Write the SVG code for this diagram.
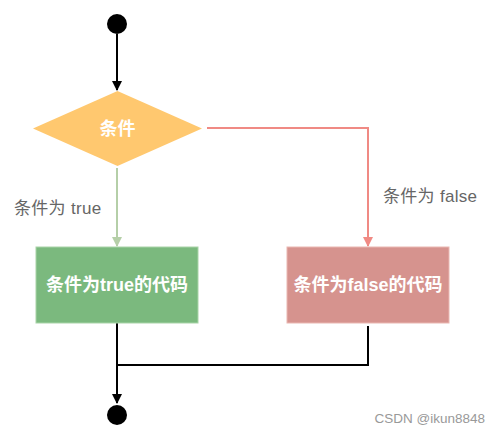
<svg xmlns="http://www.w3.org/2000/svg" width="500" height="436" viewBox="0 0 500 436">
<style>
.lbl{font-family:"Liberation Sans","Noto Sans CJK SC",sans-serif;font-size:17px;fill:#666666;letter-spacing:0.3px}
.ntx{font-family:"Liberation Sans","Noto Sans CJK SC",sans-serif;font-size:18px;font-weight:bold;fill:#ffffff;text-anchor:middle;dominant-baseline:central}
</style>
<defs>
<marker id="ab" markerWidth="10" markerHeight="10" refX="9" refY="5" orient="auto" markerUnits="userSpaceOnUse"><path d="M0,0 L10,5 L0,10 Z" fill="#000"/></marker>
<marker id="ag" markerWidth="10" markerHeight="10" refX="9" refY="5" orient="auto" markerUnits="userSpaceOnUse"><path d="M0,0 L10,5 L0,10 Z" fill="#B5CFA8"/></marker>
<marker id="ar" markerWidth="10" markerHeight="10" refX="9" refY="5" orient="auto" markerUnits="userSpaceOnUse"><path d="M0,0 L10,5 L0,10 Z" fill="#F08A84"/></marker>
</defs>
<rect width="500" height="436" fill="#ffffff"/>
<g id="connectors" fill="none" stroke-width="2">
<path d="M117,34 V90" stroke="#000" marker-end="url(#ab)"/>
<path d="M117,168 V246" stroke="#B5CFA8" marker-end="url(#ag)"/>
<path d="M207,128 H368 V246" stroke="#F08A84" marker-end="url(#ar)"/>
<path d="M117,323 V403" stroke="#000" marker-end="url(#ab)"/>
<path d="M368,326 V365 H117" stroke="#000"/>
<text class="lbl" x="14" y="214" stroke="none">条件为 true</text>
<text class="lbl" x="383" y="202" stroke="none">条件为 false</text>
</g>
<g id="start"><circle cx="117" cy="24" r="10" fill="#000"/></g>
<g id="cond"><polygon points="117.5,91 202,128.5 117.5,166 33,128.5" fill="#FFC86F"/><text class="ntx" x="117.5" y="129" font-size="19">条件</text></g>
<g id="trueBox"><rect x="36" y="247" width="162" height="76" fill="#7BB97E" stroke="#A9D4A8" stroke-width="1"/><text class="ntx" x="117" y="285">条件为true的代码</text></g>
<g id="falseBox"><rect x="287" y="247" width="162" height="76" fill="#D6938E" stroke="#EAB7B2" stroke-width="1"/><text class="ntx" x="368" y="285">条件为false的代码</text></g>
<g id="end"><circle cx="117" cy="415" r="10" fill="#000"/></g>
<text x="485" y="423" text-anchor="end" font-family="Liberation Sans, sans-serif" font-size="13.5" fill="#999999">CSDN @ikun8848</text>
</svg>
